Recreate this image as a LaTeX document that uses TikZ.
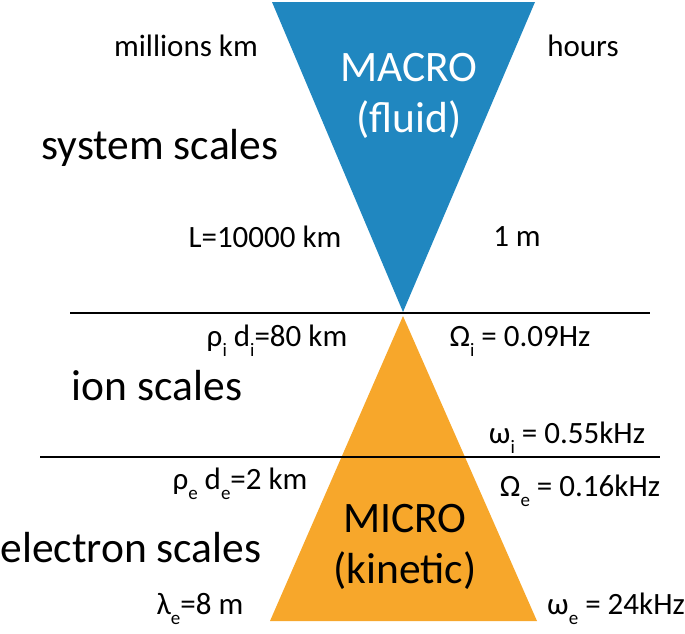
\documentclass[tikz,border=0pt]{standalone}
\usepackage{fontspec}
\setmainfont{Carlito}
\definecolor{macroblue}{RGB}{32,135,192}
\definecolor{microorange}{RGB}{247,167,43}
\tikzset{
  lbl/.style={inner sep=0pt, font=\fontsize{31}{36}\selectfont, text=black},
  big/.style={inner sep=0pt, font=\fontsize{43.5}{48}\selectfont, text=black},
  tri/.style={inner sep=0pt, font=\fontsize{43.5}{51}\selectfont, align=center},
  sep/.style={line width=1.6pt, black}
}
\newcommand{\sbs}[1]{\raisebox{-0.32em}{\fontsize{19}{20}\selectfont #1}}
\begin{document}
\begin{tikzpicture}[x=1pt,y=-1pt]
\useasboundingbox (0,0) rectangle (685,633);
% triangles
\coordinate (bTL) at (272,2);
\coordinate (bTR) at (535,2);
\coordinate (bA) at (403,312);
\coordinate (oA) at (403,316);
\coordinate (oBL) at (270,621);
\coordinate (oBR) at (537,621);
\fill[macroblue] (bTL) -- (bTR) -- (bA) -- cycle;
\fill[microorange] (oA) -- (oBR) -- (oBL) -- cycle;
% separator lines
\coordinate (l1a) at (70,313);
\coordinate (l1b) at (650,313);
\coordinate (l2a) at (40,457);
\coordinate (l2b) at (660,457);
\draw[sep] (l1a) -- (l1b);
\draw[sep] (l2a) -- (l2b);
% triangle texts
\node[tri, text=white] (macro) at (409,96) {MACRO\\(fluid)};
\node[tri, text=black] (micro) at (405,547) {MICRO\\(kinetic)};
% row labels
\node[big] (sys) at (160,148) {system scales};
\node[big] (ion) at (157,386) {ion scales};
\node[big] (ele) at (131,548) {electron scales};
% small labels
\node[lbl] (mkm) at (186,46) {millions km};
\node[lbl] (hrs) at (583,46) {hours};
\node[lbl] (L) at (265,237) {L=10000 km};
\node[lbl] (onem) at (517,237) {1 m};
\node[lbl] (rhoi) at (277,341) {ρ\sbs{i} d\sbs{i}=80 km};
\node[lbl] (Omi) at (520,341) {Ω\sbs{i} = 0.09Hz};
\node[lbl] (omi) at (567,438) {ω\sbs{i} = 0.55kHz};
\node[lbl] (rhoe) at (240,484) {ρ\sbs{e} d\sbs{e}=2 km};
\node[lbl] (Ome) at (580,491) {Ω\sbs{e} = 0.16kHz};
\node[lbl] (lame) at (200,609) {λ\sbs{e}=8 m};
\node[lbl] (ome) at (616,609) {ω\sbs{e} = 24kHz};
\end{tikzpicture}
\end{document}
